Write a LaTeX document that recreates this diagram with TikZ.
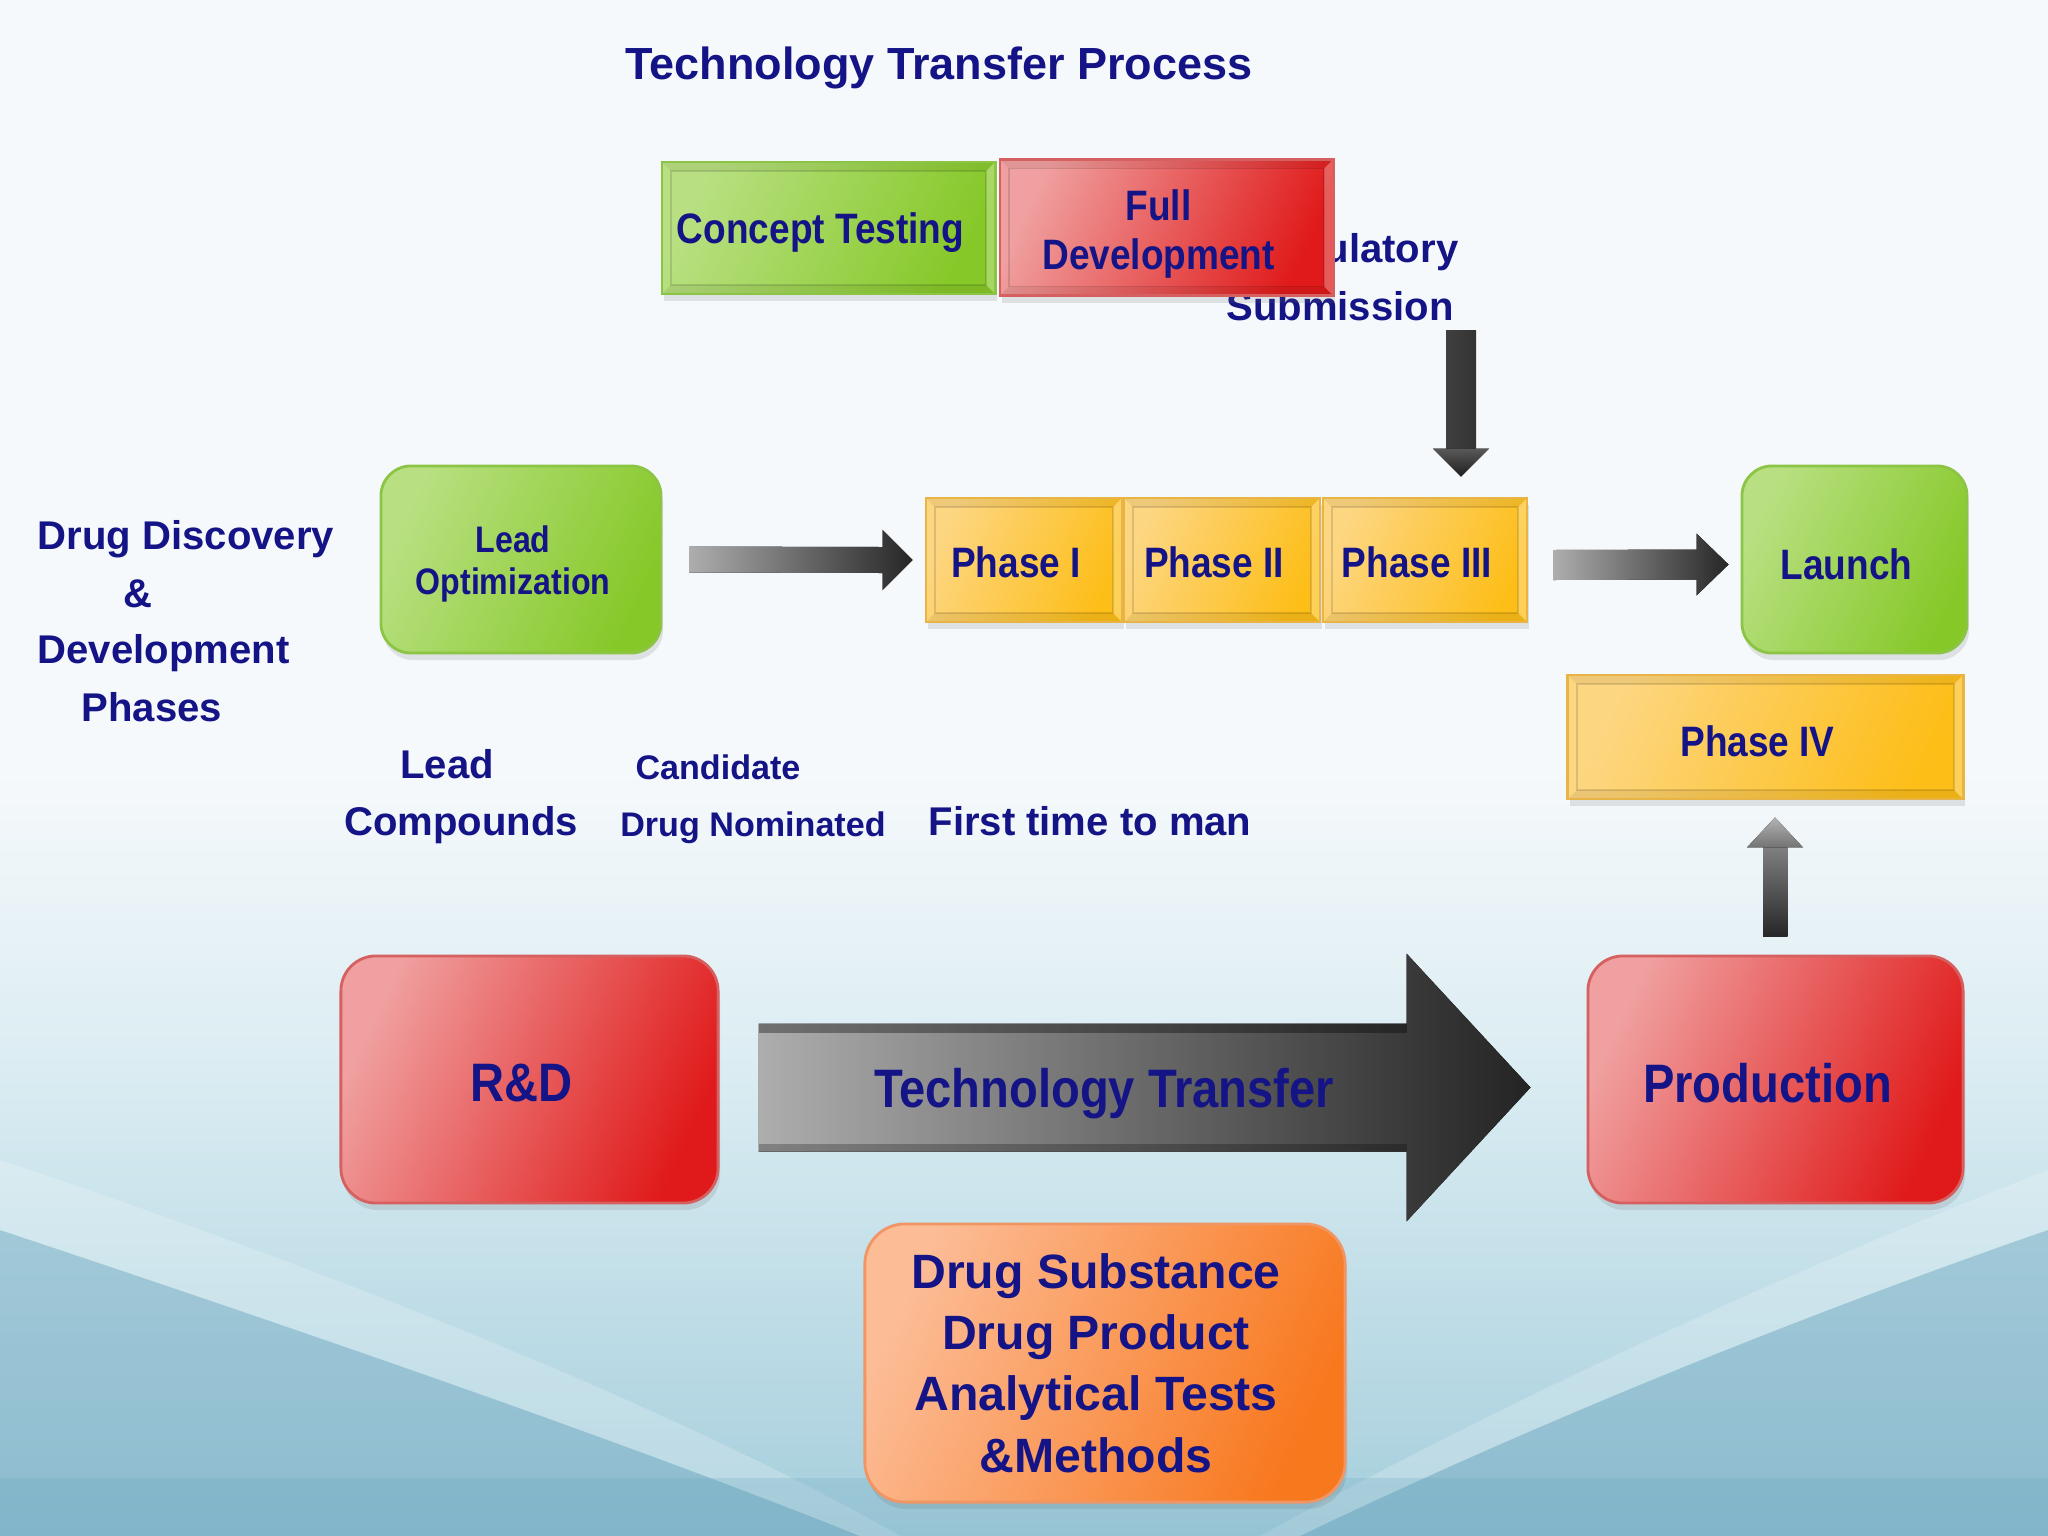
\documentclass[tikz,border=0pt]{standalone}
\usepackage{fontspec}
\setmainfont{Liberation Sans}
\newfontfamily\boxfont[FakeStretch=0.87]{Liberation Sans}
\usetikzlibrary{calc,shadows,fadings}
\definecolor{tnavy}{RGB}{20,20,135}
\definecolor{bgtop}{RGB}{246,249,251}
\definecolor{bgmid}{RGB}{218,236,242}
\definecolor{bgbot}{RGB}{165,206,220}
\definecolor{bgteal}{RGB}{100,160,186}
\definecolor{grL}{RGB}{184,224,130}
\definecolor{grR}{RGB}{134,200,40}
\definecolor{grB}{RGB}{140,196,70}
\definecolor{rdL}{RGB}{240,160,160}
\definecolor{rdR}{RGB}{224,26,26}
\definecolor{rdB}{RGB}{214,96,96}
\definecolor{ylL}{RGB}{253,214,130}
\definecolor{ylR}{RGB}{253,190,24}
\definecolor{ylB}{RGB}{232,180,70}
\definecolor{orL}{RGB}{252,188,150}
\definecolor{orR}{RGB}{248,120,30}
\definecolor{orB}{RGB}{240,150,100}
\pgfdeclareverticalshading{bgshade}{100bp}{color(0bp)=(bgbot); color(25bp)=(bgbot); color(40bp)=(bgmid); color(50bp)=(bgtop); color(75bp)=(bgtop); color(100bp)=(bgtop)}
\tikzset{
  lbl/.style={text=tnavy, font=\bfseries\fontsize{11.4}{16.2}\selectfont, align=center, inner sep=0pt},
  smalllbl/.style={lbl, font=\bfseries\fontsize{9.7}{12}\selectfont},
  boxtxt/.style={text=tnavy, font=\boxfont\bfseries\fontsize{12.1}{13.7}\selectfont, align=center, xshift=-0.08cm, yshift=-0.045cm},
  bigtxt/.style={text=tnavy, font=\boxfont\bfseries\fontsize{15.4}{17}\selectfont, align=center},
  greenfill/.style={left color=grL, right color=grR, shading angle=65, draw=grB, line width=0.8pt},
  redfill/.style={left color=rdL, right color=rdR, shading angle=65, draw=rdB, line width=0.8pt},
  yelfill/.style={left color=ylL, right color=ylR, shading angle=65, draw=ylB, line width=0.8pt},
  orfill/.style={left color=orL, right color=orR, shading angle=65, draw=orB, line width=0.8pt},
  softshadow/.style={drop shadow={shadow xshift=0.02cm, shadow yshift=-0.07cm, opacity=0.16, fill=black!60}},
  bevel/.style={rectangle, inner sep=0pt, softshadow, path picture={
      \fill[black, opacity=0.07] (path picture bounding box.south west) -- (path picture bounding box.south east)
        -- ([shift={(-0.09cm,0.09cm)}]path picture bounding box.south east) -- ([shift={(0.09cm,0.09cm)}]path picture bounding box.south west) -- cycle;
      \fill[white, opacity=0.28] (path picture bounding box.south east) -- (path picture bounding box.north east)
        -- ([shift={(-0.09cm,-0.09cm)}]path picture bounding box.north east) -- ([shift={(-0.09cm,0.09cm)}]path picture bounding box.south east) -- cycle;
      \fill[black, opacity=0.06] (path picture bounding box.north west) -- (path picture bounding box.north east)
        -- ([shift={(-0.09cm,-0.09cm)}]path picture bounding box.north east) -- ([shift={(0.09cm,-0.09cm)}]path picture bounding box.north west) -- cycle;
      \draw[black, opacity=0.12, line width=0.5pt] ([shift={(0.09cm,0.09cm)}]path picture bounding box.south west) rectangle ([shift={(-0.09cm,-0.09cm)}]path picture bounding box.north east);
  }},
  rbox/.style={rectangle, inner sep=0pt, rounded corners=0.3cm, softshadow},
  arrowshade/.style={left color=black!32, right color=black!85},
}
\begin{document}
\begin{tikzpicture}[x=0.01cm,y=-0.01cm]
\useasboundingbox (0,0) rectangle (2048,1536);
% background
\shade[shading=bgshade] (0,0) rectangle (2048,1536);
\fill[white, opacity=0.2] (0,1160) .. controls (330,1270) and (680,1410) .. (900,1536) -- (860,1536) .. controls (620,1440) and (300,1330) .. (0,1230) -- cycle;
\fill[bgteal, opacity=0.38] (0,1230) .. controls (300,1330) and (620,1440) .. (860,1536) -- (0,1536) -- cycle;
\fill[white, opacity=0.2] (2048,1170) .. controls (1740,1290) and (1470,1420) .. (1260,1536) -- (1300,1536) .. controls (1500,1440) and (1760,1330) .. (2048,1230) -- cycle;
\fill[bgteal, opacity=0.38] (2048,1230) .. controls (1760,1330) and (1500,1440) .. (1300,1536) -- (2048,1536) -- cycle;
\fill[bgteal, opacity=0.22] (0,1478) rectangle (2048,1536);

% title
\node[text=tnavy, font=\bfseries\fontsize{12.8}{15}\selectfont, anchor=mid, inner sep=0pt] (title) at (939,70) {Technology Transfer Process};

% regulatory text (partly hidden behind Full Development, as in the original)
\node[lbl, anchor=mid east] (reg) at (1459,253) {Regulatory};
\node[lbl, anchor=mid] (sub) at (1340,311) {Submission};

% top boxes
\node[bevel, greenfill, minimum width=3.33cm, minimum height=1.32cm,
      label={[boxtxt]center:Concept Testing}] (ct) at (828.5,228) {};
\node[bevel, redfill, minimum width=3.33cm, minimum height=1.36cm,
      label={[boxtxt, yshift=-0.02cm]center:{Full\\Development}}] (fd) at (1166.5,227.5) {};

% left labels
\node[lbl, anchor=mid west] (dd1) at (37,540) {Drug Discovery};
\node[lbl, anchor=mid] (dd2) at (138,598) {\&};
\node[lbl, anchor=mid west] (dd3) at (37,654) {Development};
\node[lbl, anchor=mid west] (dd4) at (81,712) {Phases};

% middle row
\node[rbox, greenfill, minimum width=2.80cm, minimum height=1.87cm,
      label={[boxtxt, font=\boxfont\bfseries\fontsize{10.5}{12}\selectfont]center:{Lead\\Optimization}}] (lo) at (521,559.5) {};
\node[bevel, yelfill, minimum width=1.96cm, minimum height=1.24cm, label={[boxtxt, yshift=0.02cm]center:Phase I}] (ph1) at (1024,560) {};
\node[bevel, yelfill, minimum width=1.96cm, minimum height=1.24cm, label={[boxtxt, yshift=0.02cm]center:Phase II}] (ph2) at (1222,560) {};
\node[bevel, yelfill, minimum width=2.04cm, minimum height=1.24cm, label={[boxtxt, yshift=0.02cm]center:Phase III}] (ph3) at (1425,560) {};
\node[rbox, greenfill, minimum width=2.25cm, minimum height=1.87cm, label={[boxtxt]center:Launch}] (la) at (1854.5,559.5) {};
\node[bevel, yelfill, minimum width=3.95cm, minimum height=1.24cm, label={[boxtxt]center:Phase IV}] (ph4) at (1765.5,737) {};

% milestone labels
\node[lbl, anchor=mid] (lc1) at (447,769) {Lead};
\node[lbl, anchor=mid] (lc2) at (461,826) {Compounds};
\node[smalllbl, anchor=mid] (cd1) at (718,770) {Candidate};
\node[smalllbl, anchor=mid] (cd2) at (753,827) {Drug Nominated};
\node[lbl, anchor=mid] (ftm) at (1090,826) {First time to man};

% bottom row
\node[rbox, redfill, rounded corners=0.35cm, minimum width=3.77cm, minimum height=2.47cm,
      label={[bigtxt, xshift=-0.08cm, yshift=-0.04cm]center:R\&D}] (rd) at (529.5,1079.5) {};
\node[rbox, redfill, rounded corners=0.35cm, minimum width=3.75cm, minimum height=2.47cm,
      label={[bigtxt, xshift=-0.08cm, yshift=-0.04cm]center:Production}] (pr) at (1775.5,1079.5) {};
\node[rbox, orfill, rounded corners=0.4cm, minimum width=4.80cm, minimum height=2.78cm,
      label={[text=tnavy, font=\bfseries\fontsize{13.7}{17.4}\selectfont, align=center, xshift=-0.09cm]center:{Drug Substance\\Drug Product\\Analytical Tests\\\&Methods}}] (ds) at (1105,1363) {};

% arrow: Lead Optimization -> Phase I
\coordinate (a1s) at ($(lo.east)+(27,0)$);
\coordinate (a1e) at ($(ph1.west)+(-12,0)$);
\fill[arrowshade] ($(a1s)+(0,-13)$) -- ($(a1e)+(-30,-13)$) -- ($(a1e)+(-30,-30)$) -- (a1e) -- ($(a1e)+(-30,30)$) -- ($(a1e)+(-30,13)$) -- ($(a1s)+(0,13)$) -- cycle;

% arrow: Phase III -> Launch
\coordinate (a2s) at ($(ph3.east)+(25,5)$);
\coordinate (a2e) at ($(la.west)+(-12,5)$);
\fill[arrowshade] ($(a2s)+(0,-15)$) -- ($(a2e)+(-32,-15)$) -- ($(a2e)+(-32,-31)$) -- (a2e) -- ($(a2e)+(-32,31)$) -- ($(a2e)+(-32,15)$) -- ($(a2s)+(0,15)$) -- cycle;

% arrow: Regulatory Submission -> Phase III
\coordinate (a3s) at ($(ph3.north)+(36,-166)$);
\coordinate (a3e) at ($(ph3.north)+(36,-20)$);
\shade[left color=black!75, middle color=black!35, right color=black!80] ($(a3s)+(-15,0)$) rectangle ($(a3e)+(15,-28)$);
\fill[top color=black!65, bottom color=black!88] ($(a3e)+(-28,-28)$) -- ($(a3e)+(28,-28)$) -- (a3e) -- cycle;

% arrow: Production -> Phase IV
\coordinate (a4s) at ($(pr.north)+(0,-18)$);
\coordinate (a4e) at ($(ph4.south)+(9.5,17)$);
\shade[top color=black!50, bottom color=black!85] ($(a4s)+(-12.5,0)$) rectangle ($(a4e)+(12.5,30)$);
\fill[top color=black!30, bottom color=black!55] ($(a4e)+(-28,30)$) -- ($(a4e)+(28,30)$) -- (a4e) -- cycle;

% big arrow: R&D -> Production
\coordinate (bs) at ($(rd.east)+(39,8)$);
\coordinate (be) at ($(pr.west)+(-56,8)$);
\fill[left color=black!32, middle color=black!76, right color=black!86] ($(bs)+(0,-64)$) -- ($(be)+(-124,-64)$) -- ($(be)+(-124,-134)$) -- (be) -- ($(be)+(-124,134)$) -- ($(be)+(-124,64)$) -- ($(bs)+(0,64)$) -- cycle;
\fill[black, opacity=0.35] ($(bs)+(0,-64)$) -- ($(be)+(-124,-64)$) -- ($(be)+(-124,-55)$) -- ($(bs)+(0,-55)$) -- cycle;
\fill[black, opacity=0.25] ($(bs)+(0,64)$) -- ($(be)+(-124,64)$) -- ($(be)+(-124,56)$) -- ($(bs)+(0,56)$) -- cycle;
\node[bigtxt, anchor=mid] (tt) at (1104,1098) {Technology Transfer};
\end{tikzpicture}
\end{document}
